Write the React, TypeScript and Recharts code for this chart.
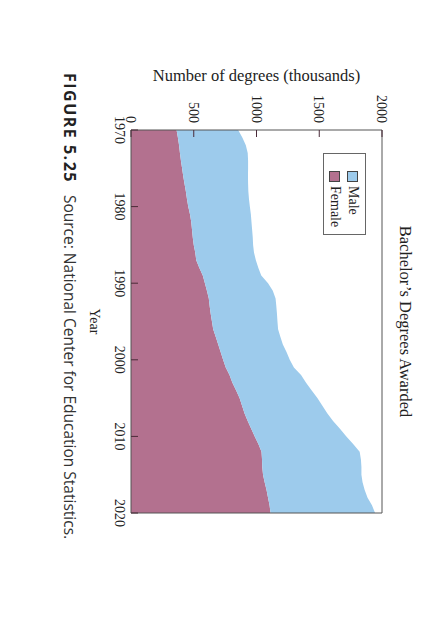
import { AreaChart, Area, XAxis, YAxis, Legend, ReferenceArea } from "recharts";

const years = [
  1970, 1971, 1972, 1973, 1974, 1975, 1976, 1977, 1978, 1979,
  1980, 1981, 1982, 1983, 1984, 1985, 1986, 1987, 1988, 1989,
  1990, 1991, 1992, 1993, 1994, 1995, 1996, 1997, 1998, 1999,
  2000, 2001, 2002, 2003, 2004, 2005, 2006, 2007, 2008, 2009,
  2010, 2011, 2012, 2013, 2014, 2015, 2016, 2017, 2018, 2019, 2020,
];

// thousands of degrees
const female = [
  363, 374, 383, 390, 398, 407, 416, 426, 437, 446,
  456, 470, 480, 486, 492, 500, 512, 520, 545, 572,
  589, 605, 620, 627, 635, 645, 655, 675, 695, 715,
  734, 755, 785, 808, 838, 865, 885, 905, 930, 958,
  986, 1015, 1040, 1044, 1046, 1052, 1065, 1080, 1092, 1104, 1112,
];

const male = [
  491, 514, 532, 540, 535, 526, 516, 507, 498, 494,
  491, 485, 480, 479, 478, 473, 468, 475, 470, 466,
  503, 525, 532, 531, 528, 522, 517, 515, 515, 525,
  531, 543, 570, 587, 602, 620, 640, 660, 680, 707,
  730, 755, 782, 788, 790, 784, 780, 782, 793, 816, 833,
];

const yearTicks = [1970, 1980, 1990, 2000, 2010, 2020];
const valueTicks = [0, 500, 1000, 1500, 2000];

const data = years.map((year, i) => ({ year, Female: female[i], Male: male[i] }));

const SERIF = '"Liberation Serif", "DejaVu Serif", serif';
const MALE_COLOR = "#9dcbec";
const FEMALE_COLOR = "#b3718f";

function YearTick(props: any) {
  const { x, y, payload } = props;
  const axisY = y - 6;
  return (
    <g>
      <line x1={x} y1={axisY} x2={x} y2={axisY - 7} stroke="#4a2a38" strokeWidth={1} />
      <text x={x} y={y} dy="0.71em" textAnchor="middle" fontFamily={SERIF} fontSize={14} fill="#222">
        {payload.value}
      </text>
    </g>
  );
}

function ValueTick(props: any) {
  const { x, y, payload } = props;
  const axisX = x + 7;
  return (
    <g>
      <line x1={axisX} y1={y} x2={axisX + 7} y2={y} stroke="#4a2a38" strokeWidth={1} />
      <text x={x} y={y} dy="0.355em" textAnchor="end" fontFamily={SERIF} fontSize={14} fill="#222">
        {payload.value}
      </text>
    </g>
  );
}

function LegendBox() {
  const items = [
    { name: "Male", color: MALE_COLOR },
    { name: "Female", color: FEMALE_COLOR },
  ];
  return (
    <div
      style={{
        border: "1px solid #666",
        background: "#fff",
        width: 82,
        height: 43,
        boxSizing: "border-box",
        padding: "3px 0 0 17px",
        fontFamily: SERIF,
        fontSize: 14,
        color: "#222",
      }}
    >
      {items.map((it) => (
        <div key={it.name} style={{ display: "flex", alignItems: "center", height: 18 }}>
          <span
            style={{
              display: "inline-block",
              width: 9,
              height: 9,
              background: it.color,
              border: "1px solid #444",
              marginRight: 4,
            }}
          />
          {it.name}
        </div>
      ))}
    </div>
  );
}

export default function App() {
  return (
    <div style={{ position: "fixed", left: 0, top: 0, width: 439, height: 636, background: "#fff" }}>
      <div
        style={{
          position: "absolute",
          left: 430,
          top: 40,
          width: 560,
          height: 390,
          transform: "rotate(90deg)",
          transformOrigin: "0 0",
        }}
      >
        <div
          style={{
            position: "absolute",
            left: 90,
            width: 383,
            top: 15,
            textAlign: "center",
            fontFamily: SERIF,
            fontSize: 16.5,
            lineHeight: "20px",
            color: "#222",
          }}
        >
          Bachelor’s Degrees Awarded
        </div>
        <div style={{ position: "absolute", left: 0, top: 0 }}>
          <AreaChart
            width={560}
            height={350}
            data={data}
            margin={{ top: 48, right: 87, bottom: 1, left: 0 }}
          >
            <XAxis
              dataKey="year"
              type="number"
              domain={[1970, 2020]}
              ticks={yearTicks}
              height={50}
              tickSize={0}
              tickMargin={6}
              axisLine={false}
              tickLine={false}
              tick={<YearTick />}
              label={{ value: "Year", position: "center", dy: 11, fontFamily: SERIF, fontSize: 14, fill: "#222" }}
            />
            <YAxis
              type="number"
              domain={[0, 2000]}
              ticks={valueTicks}
              width={90}
              tickSize={0}
              tickMargin={7}
              axisLine={false}
              tickLine={false}
              tick={<ValueTick />}
              label={{
                value: "Number of degrees (thousands)",
                angle: -90,
                position: "center",
                dx: -10,
                fontFamily: SERIF,
                fontSize: 16.5,
                fill: "#222",
              }}
            />
            <Area
              type="linear"
              dataKey="Female"
              stackId="a"
              stroke="none"
              fill={FEMALE_COLOR}
              fillOpacity={1}
              isAnimationActive={false}
            />
            <Area
              type="linear"
              dataKey="Male"
              stackId="a"
              stroke="none"
              fill={MALE_COLOR}
              fillOpacity={1}
              isAnimationActive={false}
            />
            <ReferenceArea x1={1970} x2={2020} y1={0} y2={2000} fill="none" stroke="#555" strokeWidth={1} />
            <Legend
              layout="vertical"
              align="center"
              verticalAlign="middle"
              content={<LegendBox />}
              wrapperStyle={{ left: 113, top: 64, width: 82, height: 43 }}
            />
          </AreaChart>
        </div>
        <div
          style={{
            position: "absolute",
            left: 33,
            top: 350,
            whiteSpace: "nowrap",
            fontFamily: '"Open Sans", sans-serif',
            color: "#333",
            lineHeight: "20px",
          }}
        >
          <span style={{ fontWeight: "bold", fontSize: 16, letterSpacing: 1.5, color: "#222" }}>FIGURE 5.25</span>
          <span style={{ fontSize: 15.5, marginLeft: 12 }}>Source: National Center for Education Statistics.</span>
        </div>
      </div>
    </div>
  );
}
